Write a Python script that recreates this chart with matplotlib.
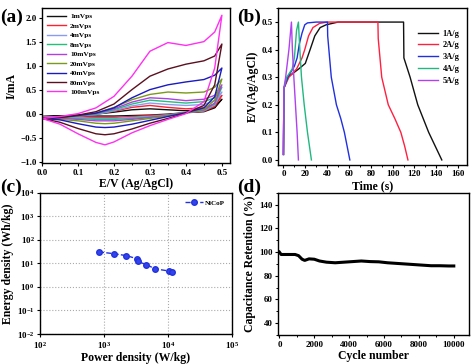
import numpy as np
import matplotlib
matplotlib.use("Agg")
import matplotlib.pyplot as plt
from matplotlib.ticker import MultipleLocator, LogLocator, NullLocator

plt.rcParams['font.family'] = ['Liberation Serif', 'DejaVu Serif']
plt.rcParams['font.weight'] = 'bold'
plt.rcParams['axes.labelweight'] = 'bold'
plt.rcParams['mathtext.fontset'] = 'custom'
plt.rcParams['mathtext.rm'] = 'Liberation Serif:bold'
plt.rcParams['mathtext.it'] = 'Liberation Serif:italic:bold'
plt.rcParams['mathtext.bf'] = 'Liberation Serif:bold'

# ---- (a) CV curves ----
scan_labels = ['1mVps', '2mVps', '4mVps', '8mVps', '10mVps', '20mVps', '40mVps', '80mVps', '100mVps']
cv_colors = ['#111111', '#ff2030', '#8a9cf0', '#22c07a', '#b040e0', '#7a9a1a', '#1a1ac0', '#5a1020', '#ff30f0']
E_up = [0, 0.05, 0.1, 0.15, 0.2, 0.25, 0.3, 0.35, 0.4, 0.45, 0.48, 0.5]
I_up = [
    [-0.06, -0.05, -0.03, -0.01, 0.03, 0.08, 0.10, 0.08, 0.06, 0.08, 0.14, 0.30],
    [-0.07, -0.06, -0.04, -0.01, 0.05, 0.13, 0.17, 0.13, 0.10, 0.12, 0.20, 0.38],
    [-0.08, -0.07, -0.05, -0.02, 0.06, 0.16, 0.22, 0.19, 0.17, 0.19, 0.27, 0.45],
    [-0.09, -0.07, -0.05, -0.01, 0.08, 0.20, 0.28, 0.25, 0.22, 0.25, 0.33, 0.55],
    [-0.09, -0.07, -0.05, 0.00, 0.10, 0.24, 0.33, 0.31, 0.27, 0.30, 0.38, 0.60],
    [-0.10, -0.08, -0.05, 0.01, 0.13, 0.29, 0.40, 0.45, 0.43, 0.45, 0.55, 0.72],
    [-0.10, -0.08, -0.04, 0.01, 0.12, 0.33, 0.50, 0.60, 0.66, 0.71, 0.80, 0.95],
    [-0.10, -0.08, -0.03, 0.04, 0.20, 0.50, 0.78, 0.93, 1.03, 1.10, 1.20, 1.45],
    [-0.10, -0.06, 0.00, 0.12, 0.36, 0.78, 1.30, 1.48, 1.42, 1.50, 1.70, 2.05],
]
E_down = [0.5, 0.48, 0.45, 0.4, 0.35, 0.3, 0.25, 0.2, 0.175, 0.15, 0.1, 0.05, 0]
I_down = [
    [0.30, 0.12, 0.04, 0.02, -0.01, -0.03, -0.04, -0.05, -0.05, -0.05, -0.05, -0.05, -0.06],
    [0.38, 0.15, 0.05, 0.02, -0.02, -0.04, -0.06, -0.08, -0.08, -0.08, -0.07, -0.07, -0.07],
    [0.45, 0.18, 0.06, 0.02, -0.03, -0.06, -0.08, -0.10, -0.10, -0.10, -0.09, -0.08, -0.08],
    [0.55, 0.20, 0.07, 0.02, -0.03, -0.07, -0.10, -0.12, -0.12, -0.12, -0.10, -0.09, -0.09],
    [0.60, 0.22, 0.08, 0.02, -0.04, -0.08, -0.12, -0.15, -0.15, -0.15, -0.12, -0.10, -0.09],
    [0.72, 0.28, 0.09, 0.02, -0.05, -0.10, -0.15, -0.20, -0.21, -0.20, -0.15, -0.12, -0.10],
    [0.95, 0.35, 0.12, 0.02, -0.06, -0.14, -0.22, -0.28, -0.29, -0.28, -0.21, -0.13, -0.10],
    [1.45, 0.60, 0.17, 0.01, -0.10, -0.20, -0.32, -0.42, -0.44, -0.42, -0.31, -0.18, -0.10],
    [2.05, 0.95, 0.25, 0.00, -0.12, -0.25, -0.40, -0.59, -0.65, -0.60, -0.42, -0.22, -0.10],
]

# ---- (b) GCD curves ----
gcd_labels = ['1A/g', '2A/g', '3A/g', '4A/g', '5A/g']
gcd_colors = ['#111111', '#ff2040', '#2030e0', '#20b880', '#b040f0']
gcd_t = [
    [0, 0.4, 4, 14, 20, 24.4, 28.7, 33.6, 39, 50, 110, 110.3, 116, 123, 128, 133, 139, 145],
    [0, 0.4, 5, 12, 17, 19.5, 23, 27, 33, 40, 86.5, 86.8, 90, 96, 102, 107.5, 111, 114],
    [0, 0.4, 4, 10, 12.5, 14.5, 17, 19.5, 22, 30, 40.3, 40.5, 43.8, 48.5, 52.5, 55.8, 58.3, 60.8],
    [0, 0.4, 3, 8, 10, 11, 12, 13.7, 15, 16.5, 19, 22, 25.6],
    [0, 0.4, 2, 5, 7.3, 8.2, 9.5, 11, 12.5, 13.7],
]
gcd_v = [
    [0.02, 0.26, 0.30, 0.33, 0.35, 0.40, 0.45, 0.48, 0.49, 0.50, 0.50, 0.37, 0.30, 0.20, 0.15, 0.10, 0.05, 0.00],
    [0.02, 0.26, 0.30, 0.33, 0.37, 0.40, 0.45, 0.48, 0.495, 0.50, 0.50, 0.44, 0.30, 0.20, 0.15, 0.10, 0.05, 0.00],
    [0.02, 0.26, 0.30, 0.34, 0.37, 0.42, 0.46, 0.49, 0.497, 0.50, 0.50, 0.45, 0.30, 0.20, 0.15, 0.10, 0.05, 0.00],
    [0.02, 0.26, 0.30, 0.33, 0.37, 0.42, 0.47, 0.50, 0.40, 0.30, 0.20, 0.10, 0.00],
    [0.02, 0.26, 0.30, 0.40, 0.50, 0.40, 0.30, 0.20, 0.10, 0.00],
]

# ---- (c) Ragone ----
power = [836, 1430, 2250, 3260, 3370, 4600, 6350, 10240, 11750]
energy = [31, 26, 21.5, 16, 12.3, 8.9, 5.9, 4.8, 4.4]

# ---- (d) cycling ----
cycles = [0, 100, 500, 900, 1100, 1300, 1450, 1700, 2000, 2300, 2700, 3200, 3700, 4200,
          4700, 5200, 5700, 6200, 6700, 7200, 7700, 8200, 8700, 9200, 9700, 10000]
retention = [100, 98, 98, 98, 97, 94, 93, 94.3, 94, 92.5, 91.5, 91, 91.5, 92, 92.5, 92,
             91.8, 91, 90.5, 90, 89.5, 89, 88.5, 88.5, 88.3, 88.3]

fig = plt.figure(figsize=(4.74, 3.64), dpi=100)
tick_fs = 6.5
lab_fs = 8.5

def style(ax):
    ax.tick_params(direction='out', length=2.5, width=0.8, labelsize=tick_fs, pad=1.5)
    ax.tick_params(which='minor', direction='out', length=1.5, width=0.7)
    for s in ax.spines.values():
        s.set_linewidth(1.0)

# (a)
ax1 = fig.add_axes([0.0886, 0.552, 0.397, 0.426])
for i in range(len(scan_labels)):
    ax1.plot(E_up + E_down, I_up[i] + I_down[i], color=cv_colors[i], lw=1.0, label=scan_labels[i])
ax1.set_xlim(0, 0.523)
ax1.set_ylim(-1.03, 2.2)
ax1.xaxis.set_major_locator(MultipleLocator(0.1))
ax1.xaxis.set_minor_locator(MultipleLocator(0.05))
ax1.yaxis.set_major_locator(MultipleLocator(0.5))
ax1.set_xlabel('E/V (Ag/AgCl)', fontsize=lab_fs, labelpad=1)
ax1.set_ylabel('I/mA', fontsize=lab_fs, labelpad=2)
style(ax1)
ax1.legend(loc='upper left', fontsize=5.3, frameon=False, handlelength=2.6,
           labelspacing=0.45, borderaxespad=0.3, handletextpad=0.5)

# (b)
ax2 = fig.add_axes([0.5865, 0.547, 0.3985, 0.431])
for i in range(len(gcd_labels)):
    ax2.plot(gcd_t[i], gcd_v[i], color=gcd_colors[i], lw=1.0, label=gcd_labels[i])
ax2.set_xlim(-5, 168)
ax2.set_ylim(-0.018, 0.551)
ax2.xaxis.set_major_locator(MultipleLocator(20))
ax2.xaxis.set_minor_locator(MultipleLocator(10))
ax2.yaxis.set_major_locator(MultipleLocator(0.1))
ax2.yaxis.set_minor_locator(MultipleLocator(0.05))
ax2.set_xlabel('Time (s)', fontsize=lab_fs, labelpad=1)
ax2.set_ylabel('E/V(Ag/AgCl)', fontsize=lab_fs, labelpad=2)
style(ax2)
ax2.legend(loc='upper right', bbox_to_anchor=(1.0, 0.91), fontsize=6, frameon=False,
           handlelength=2.4, labelspacing=0.45, handletextpad=0.5)

# (c)
ax3 = fig.add_axes([0.0844, 0.0824, 0.4046, 0.3876])
ax3.plot(power, energy, color='#2233dd', lw=1.0, ls='--', marker='o', ms=4,
         mfc='#3344ee', mec='#2233dd', label='NiCoP')
ax3.set_xscale('log')
ax3.set_yscale('log')
ax3.set_xlim(1e2, 1e5)
ax3.set_ylim(1e-2, 1e4)
ax3.xaxis.set_major_locator(LogLocator(base=10, numticks=10))
ax3.yaxis.set_major_locator(LogLocator(base=10, numticks=10))
ax3.xaxis.set_minor_locator(NullLocator())
ax3.yaxis.set_minor_locator(NullLocator())
ax3.grid(True, which='major', ls=':', color='#aaaaaa', lw=0.8)
ax3.set_xlabel('Power density (W/kg)', fontsize=lab_fs, labelpad=1)
ax3.set_ylabel('Energy density (Wh/kg)', fontsize=lab_fs, labelpad=2)
style(ax3)
ax3.tick_params(labelsize=6.5)
ax3.legend(loc='upper right', fontsize=5, frameon=False, handlelength=2.6,
           borderaxespad=0.6, handletextpad=0.3)

# (d)
ax4 = fig.add_axes([0.5865, 0.0797, 0.4025, 0.3903])
ax4.plot(cycles, retention, color='black', lw=2.2)
ax4.set_xlim(-80, 10860)
ax4.set_ylim(30, 150)
ax4.xaxis.set_major_locator(MultipleLocator(2000))
ax4.xaxis.set_minor_locator(MultipleLocator(1000))
ax4.yaxis.set_major_locator(MultipleLocator(20))
ax4.yaxis.set_minor_locator(MultipleLocator(10))
ax4.set_yticks([40, 60, 80, 100, 120, 140])
ax4.set_xlabel('Cycle number', fontsize=lab_fs, labelpad=1)
ax4.set_ylabel('Capacitance Retention (%)', fontsize=lab_fs, labelpad=2)
style(ax4)

for txt, x, y in [('(a)', 0.0, 0.975), ('(b)', 0.5, 0.975), ('(c)', 0.0, 0.51), ('(d)', 0.5, 0.51)]:
    fig.text(x, y, txt, fontsize=14, fontweight='bold', va='top', ha='left')

fig.savefig('out.png', dpi=100)
